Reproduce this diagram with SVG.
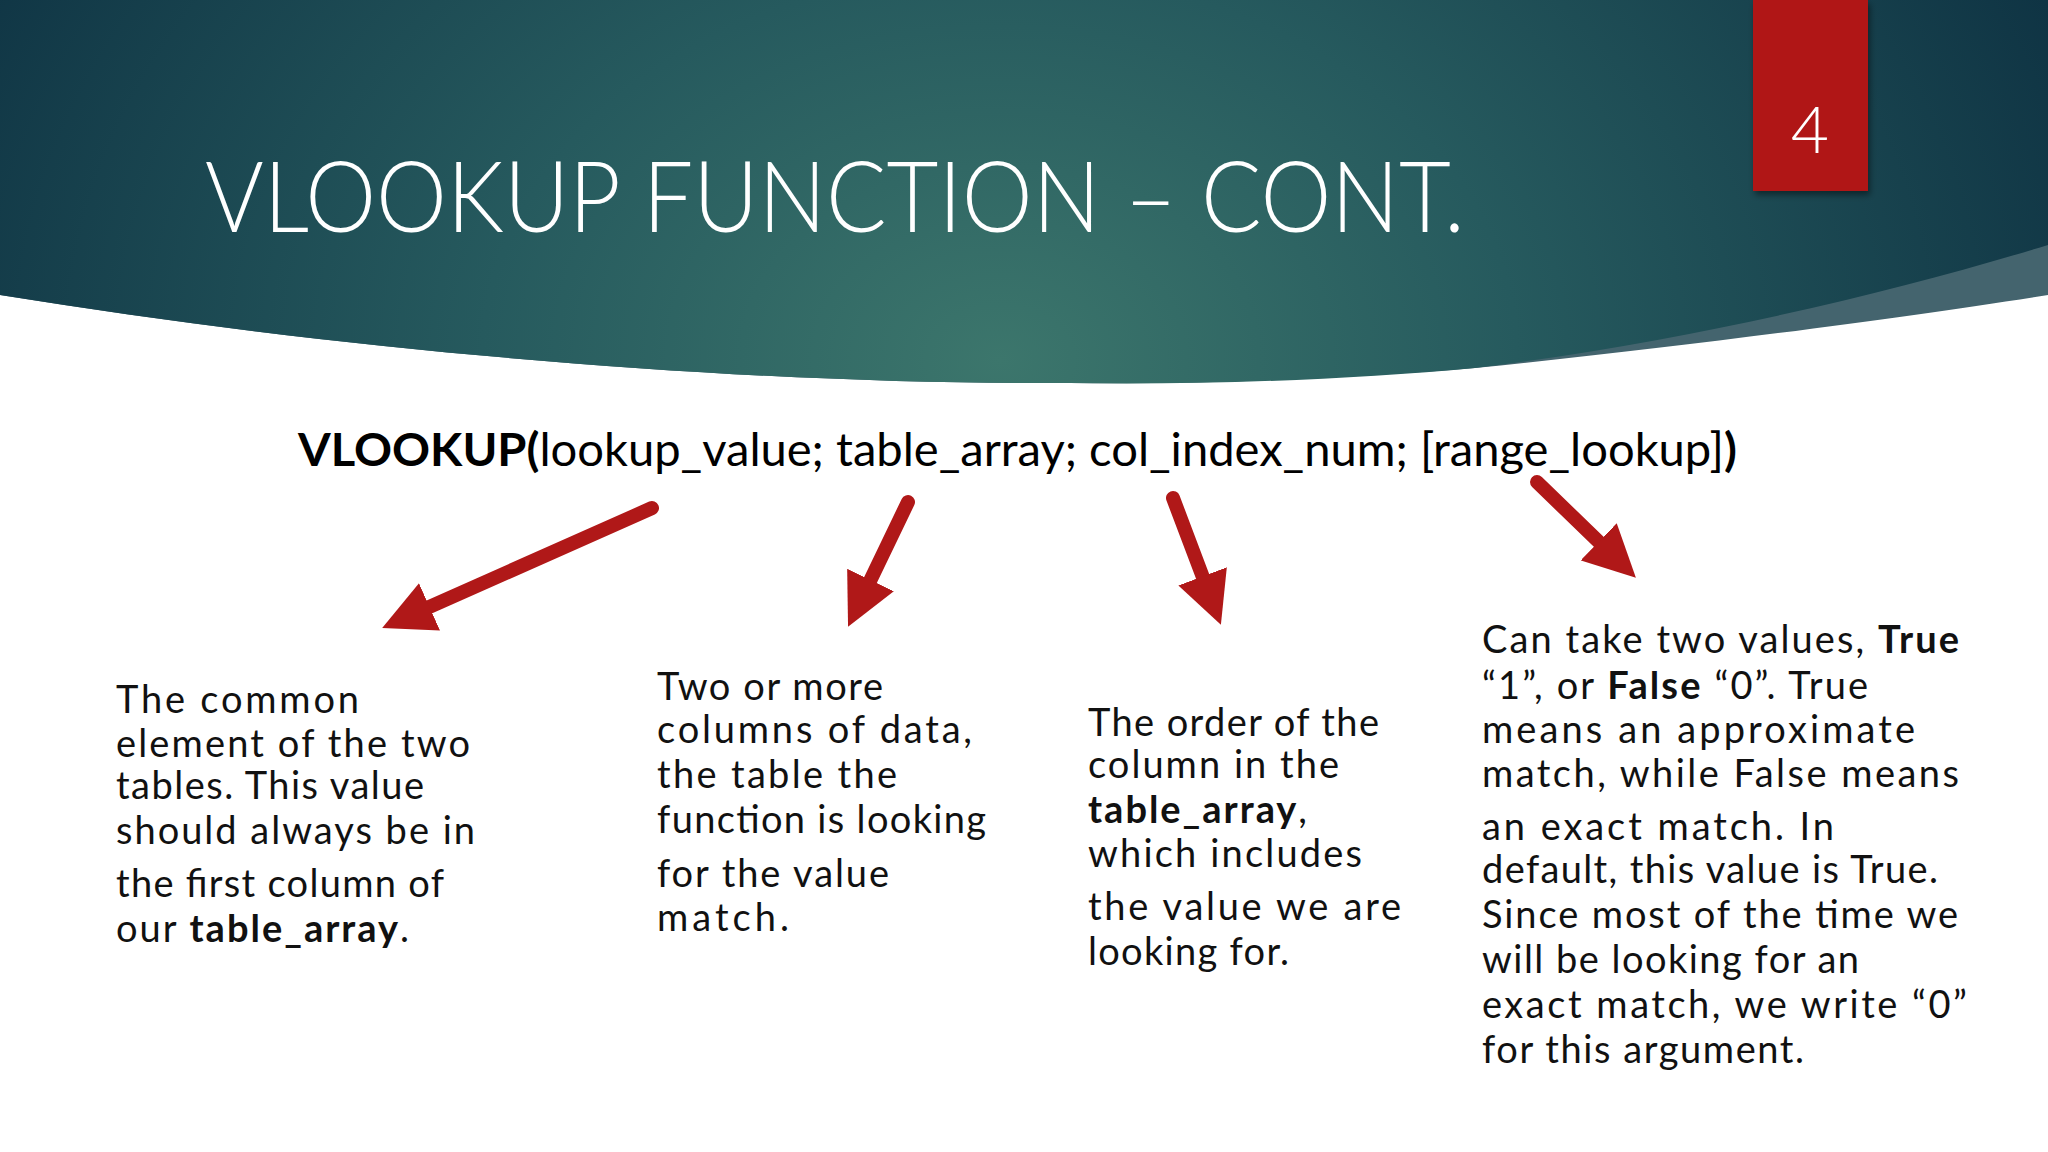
<svg xmlns="http://www.w3.org/2000/svg" width="2048" height="1152" viewBox="0 0 2048 1152">
<defs>
<radialGradient id="bg" cx="1000" cy="360" r="1150" gradientUnits="userSpaceOnUse" gradientTransform="translate(1000 360) scale(1 0.75) translate(-1000 -360)">
<stop offset="0" stop-color="#3c766c"/>
<stop offset="0.45" stop-color="#265a5e"/>
<stop offset="1" stop-color="#0f3444"/>
</radialGradient>
<filter id="sh" x="-20%" y="-20%" width="140%" height="140%">
<feDropShadow dx="2" dy="4" stdDeviation="3" flood-color="#000" flood-opacity="0.45"/>
</filter>
<marker id="ah" viewBox="0 0 10 10" refX="0" refY="5" markerWidth="3.7" markerHeight="3.7" orient="auto" markerUnits="strokeWidth">
<path d="M0,0 L10,5 L0,10 z" fill="#b01818"/>
</marker>
<style>
.title{font-family:Lato,"Open Sans","Liberation Sans",sans-serif;font-weight:300;font-size:98px;fill:#fff}
.num{font-family:Lato,"Open Sans","Liberation Sans",sans-serif;font-weight:300;font-size:66px;fill:#fff}
.formula{font-family:Lato,"Open Sans","Liberation Sans",sans-serif;font-size:46px;fill:#000}
.body{font-family:Lato,"Open Sans","Liberation Sans",sans-serif;font-size:38px;fill:#111}
.b{font-weight:bold}
.arrow{stroke:#b01818;stroke-width:14;stroke-linecap:round;fill:none;marker-end:url(#ah)}
</style>
</defs>
<rect width="2048" height="1152" fill="#fff"/>
<g id="header">
<path d="M0,0 H2048 V295 C1900,318 1700,345 1475,368 C1350,378 1200,385 1070,383 C800,385 400,360 0,295 Z" fill="#44646e"/>
<path d="M0,0 H2048 V245 C1900,290 1700,340 1475,368 C1350,380 1200,385 1070,383 C800,385 400,360 0,295 Z" fill="url(#bg)"/>
<text class="title" x="205" y="232" textLength="1260" lengthAdjust="spacingAndGlyphs">VLOOKUP FUNCTION – CONT.</text>
</g>
<g id="page-number">
<rect x="1753" y="0" width="115" height="191" fill="#b01816" filter="url(#sh)"/>
<text class="num" x="1810" y="153" text-anchor="middle">4</text>
</g>
<g id="formula">
<text class="formula" x="298" y="466" textLength="1439" lengthAdjust="spacingAndGlyphs"><tspan class="b">VLOOKUP(</tspan>lookup_value; table_array; col_index_num; [range_lookup]<tspan class="b">)</tspan></text>
</g>
<g id="connectors">
<line class="arrow" x1="652" y1="508" x2="429.5" y2="606.9"/>
<line class="arrow" x1="908" y1="502" x2="870.5" y2="580"/>
<line class="arrow" x1="1173" y1="498" x2="1202.6" y2="576.4"/>
<line class="arrow" x1="1537" y1="482" x2="1598.7" y2="541.8"/>
</g>
<g id="lookup-value-note">
<text class="body" x="116" y="713" textLength="243" lengthAdjust="spacing">The common</text>
<text class="body" x="116" y="757" textLength="354" lengthAdjust="spacing">element of the two</text>
<text class="body" x="116" y="799" textLength="308" lengthAdjust="spacing">tables. This value</text>
<text class="body" x="116" y="844" textLength="359" lengthAdjust="spacing">should always be in</text>
<text class="body" x="116" y="897" textLength="328" lengthAdjust="spacing">the first column of</text>
<text class="body" x="116" y="942" textLength="293" lengthAdjust="spacing">our <tspan class="b">table_array</tspan>.</text>
</g>
<g id="table-array-note">
<text class="body" x="657" y="700" textLength="226" lengthAdjust="spacing">Two or more</text>
<text class="body" x="657" y="743" textLength="315" lengthAdjust="spacing">columns of data,</text>
<text class="body" x="657" y="788" textLength="240" lengthAdjust="spacing">the table the</text>
<text class="body" x="657" y="833" textLength="329" lengthAdjust="spacing">function is looking</text>
<text class="body" x="657" y="887" textLength="232" lengthAdjust="spacing">for the value</text>
<text class="body" x="657" y="931" textLength="132" lengthAdjust="spacing">match.</text>
</g>
<g id="col-index-note">
<text class="body" x="1088" y="736" textLength="291" lengthAdjust="spacing">The order of the</text>
<text class="body" x="1088" y="778" textLength="251" lengthAdjust="spacing">column in the</text>
<text class="body" x="1088" y="823" textLength="219" lengthAdjust="spacing"><tspan class="b">table_array</tspan>,</text>
<text class="body" x="1088" y="867" textLength="274" lengthAdjust="spacing">which includes</text>
<text class="body" x="1088" y="920" textLength="313" lengthAdjust="spacing">the value we are</text>
<text class="body" x="1088" y="965" textLength="201" lengthAdjust="spacing">looking for.</text>
</g>
<g id="range-lookup-note">
<text class="body" x="1482" y="653" textLength="477" lengthAdjust="spacing">Can take two values, <tspan class="b">True</tspan></text>
<text class="body" x="1482" y="699" textLength="386" lengthAdjust="spacing">“1”, or <tspan class="b">False</tspan> “0”. True</text>
<text class="body" x="1482" y="743" textLength="433" lengthAdjust="spacing">means an approximate</text>
<text class="body" x="1482" y="787" textLength="477" lengthAdjust="spacing">match, while False means</text>
<text class="body" x="1482" y="840" textLength="352" lengthAdjust="spacing">an exact match. In</text>
<text class="body" x="1482" y="883" textLength="456" lengthAdjust="spacing">default, this value is True.</text>
<text class="body" x="1482" y="928" textLength="476" lengthAdjust="spacing">Since most of the time we</text>
<text class="body" x="1482" y="973" textLength="377" lengthAdjust="spacing">will be looking for an</text>
<text class="body" x="1482" y="1018" textLength="485" lengthAdjust="spacing">exact match, we write “0”</text>
<text class="body" x="1482" y="1063" textLength="322" lengthAdjust="spacing">for this argument.</text>
</g>
</svg>
